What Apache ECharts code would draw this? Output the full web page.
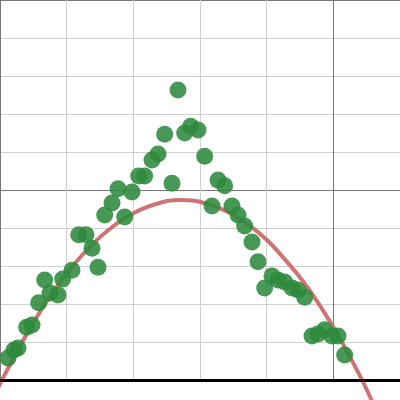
<!DOCTYPE html>
<html><head><meta charset="utf-8">
<script src="https://cdn.jsdelivr.net/npm/echarts@6/dist/echarts.min.js"></script>
<style>html,body{margin:0;padding:0;background:#fff}#c{width:400px;height:400px}</style>
</head><body><div id="c"></div>
<script>
const pointsX=[-4.88,-4.79,-4.73,-4.60,-4.52,-4.42,-4.33,-4.25,-4.13,-4.06,-3.92,-3.82,-3.71,-3.62,-3.53,-3.43,-3.32,-3.23,-3.13,-3.02,-2.92,-2.83,-2.72,-2.63,-2.53,-2.42,-2.33,-2.23,-2.14,-2.03,-1.93,-1.82,-1.73,-1.63,-1.52,-1.43,-1.33,-1.22,-1.13,-1.03,-0.92,-0.83,-0.73,-0.62,-0.53,-0.43,-0.32,-0.23,-0.13,-0.02,0.07,0.17];
const pointsY=[0.58,0.79,0.84,1.39,1.45,2.03,2.63,2.29,2.24,2.66,2.89,3.82,3.82,3.47,2.97,4.34,4.66,5.03,4.29,4.95,5.37,5.37,5.79,5.95,6.47,5.18,7.63,6.50,6.68,6.58,5.89,4.58,5.26,5.11,4.58,4.34,4.05,3.63,3.11,2.42,2.74,2.63,2.58,2.42,2.37,2.18,1.16,1.21,1.32,1.16,1.16,0.66];
const curveX=[-5.2,-5.0,-4.5,-4.0,-3.5,-3.0,-2.5,-2.27,-2.0,-1.5,-1.0,-0.5,-0.25,0,0.25,0.5,1.0];
const curveY=[-0.84,-0.10,1.51,2.80,3.76,4.39,4.71,4.74,4.69,4.35,3.69,2.70,2.09,1.39,0.61,-0.25,-2.21];
const grid5=['#777','#d0d0d0','#d0d0d0','#d0d0d0','#d0d0d0'];
const chart=echarts.init(document.getElementById('c'));
chart.setOption({
  animation:false,
  grid:{left:0,top:0,width:400,height:380},
  xAxis:{type:'value',min:-5,max:1,interval:1,axisLabel:{show:false},axisTick:{show:false},
    axisLine:{show:false},splitLine:{show:true,lineStyle:{color:grid5,width:1}}},
  yAxis:{type:'value',min:0,max:10,interval:1,axisLabel:{show:false},axisTick:{show:false},
    axisLine:{show:false},splitLine:{show:true,lineStyle:{color:grid5,width:1}}},
  series:[
    {type:'line',smooth:0.3,showSymbol:false,clip:false,data:curveX.map((x,i)=>[x,curveY[i]]),
      lineStyle:{color:'#c86464',width:4,opacity:0.9},z:3,
      markLine:{silent:true,symbol:'none',label:{show:false},lineStyle:{color:'#000',width:3,type:'solid',opacity:1},data:[{yAxis:0}]}},
    {type:'scatter',symbolSize:17,clip:false,data:pointsX.map((x,i)=>[x,pointsY[i]]),
      itemStyle:{color:'#2d8a3e',opacity:0.88},z:4}
  ]
});
</script></body></html>
